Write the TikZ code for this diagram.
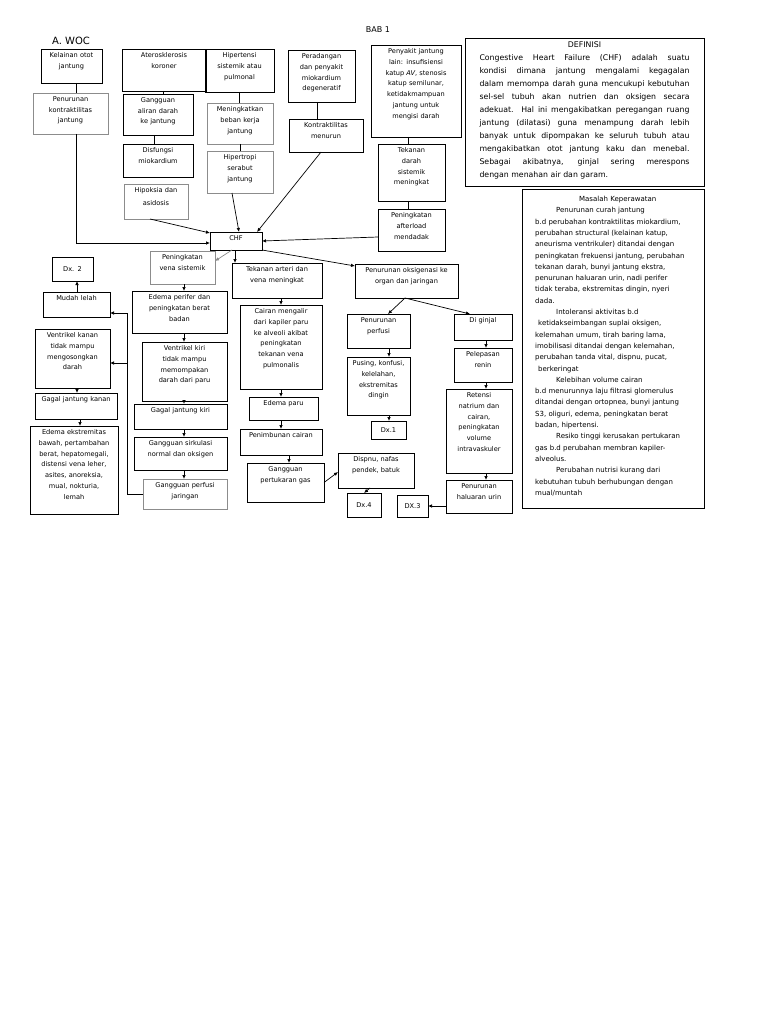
\documentclass[tikz,border=0pt]{standalone}
\usepackage{fontspec}
\setmainfont{DejaVu Sans}
\usetikzlibrary{arrows.meta,calc}
\newcommand\bx[7][]{%
  \pgfmathsetmacro\bxw{#5-#3}\pgfmathsetmacro\bxh{#6-#4}%
  \pgfmathsetmacro\bxcx{(#3+#5)/2}\pgfmathsetmacro\bxcy{(#4+#6)/2}%
  \pgfmathsetmacro\bxtw{#5-#3-3}%
  \node[bxs,minimum width=\bxw pt,minimum height=\bxh pt,#1] (#2) at (\bxcx,\bxcy) {};
  \node[txt,text width=\bxtw pt,anchor=north] (#2-t) at ([yshift=-3.5pt]#2.north) {#7};
}
\newcommand\bxc[7][]{%
  \pgfmathsetmacro\bxw{#5-#3}\pgfmathsetmacro\bxh{#6-#4}%
  \pgfmathsetmacro\bxcx{(#3+#5)/2}\pgfmathsetmacro\bxcy{(#4+#6)/2}%
  \pgfmathsetmacro\bxtw{#5-#3-3}%
  \node[bxs,minimum width=\bxw pt,minimum height=\bxh pt,#1] (#2) at (\bxcx,\bxcy) {};
  \node[txt,text width=\bxtw pt] (#2-t) at (#2.center) {#7};
}
\tikzset{
  bxs/.style={draw=black,line width=0.7pt,rectangle,inner sep=0pt,outer sep=0pt},
  gbx/.style={draw=black!45},
  txt/.style={inner sep=0pt,outer sep=0pt,align=center,font=\fontsize{6.6}{10.8}\selectfont},
  ln/.style={line width=0.7pt},
  arr/.style={line width=0.7pt,-{Latex[length=4pt,width=3.5pt]}},
}
\begin{document}
\begin{tikzpicture}[x=1pt,y=-1pt]
\useasboundingbox (0,0) rectangle (768,1024);
\fill[white] (0,0) rectangle (768,1024);

\node[font=\fontsize{8}{10}\selectfont] (bab) at (378,30) {BAB 1};
\node[font=\fontsize{10}{12}\selectfont,anchor=west,inner sep=0pt] (woc) at (52,41) {A.\ WOC};

% top row
\bx{ko}{41}{49}{102}{83}{Kelainan otot\\jantung}
\bx[gbx]{pk}{33}{93}{108}{134}{Penurunan\\kontraktilitas\\jantung}
\bx{at}{122}{49}{206}{91}{Aterosklerosis\\koroner}
\bx{ga}{123}{94}{193}{135}{Gangguan\\aliran darah\\ke jantung}
\bx{df}{123}{144}{193}{177}{Disfungsi\\miokardium}
\bx[gbx]{hip}{124}{184}{188}{219}{\vspace{2pt}Hipoksia dan\\asidosis}
\bx{hs}{205}{49}{274}{92}{Hipertensi\\sistemik atau\\pulmonal}
\bx[gbx]{mb}{207}{103}{273}{144}{Meningkatkan\\beban kerja\\jantung}
\bx[gbx]{ht}{207}{151}{273}{193}{Hipertropi\\serabut\\jantung}
\bx{pd}{288}{50}{355}{102}{Peradangan\\dan penyakit\\miokardium\\degeneratif}
\bx{kn}{289}{119}{363}{152}{Kontraktilitas\\menurun}
\bx{pj}{371}{45}{461}{137}{Penyakit jantung\\lain: insufisiensi\\katup \textit{AV}, stenosis\\katup semilunar,\\ketidakmampuan\\jantung untuk\\mengisi darah}
\bx{td}{378}{144}{445}{201}{Tekanan\\darah\\sistemik\\meningkat}
\bx{af}{378}{209}{445}{251}{Peningkatan\\afterload\\mendadak}
\bx{chf}{210}{232}{262}{250}{CHF}

% definisi
\node[bxs,minimum width=239pt,minimum height=148pt] (def) at (584.5,112) {};
\node[anchor=north,inner sep=0pt,font=\fontsize{7.8}{13}\selectfont] (deft) at ([yshift=-4pt]def.north) {\parbox{210pt}{{\centering DEFINISI\par}%
Congestive Heart Failure (CHF) adalah suatu\linebreak
kondisi dimana jantung mengalami kegagalan\linebreak
dalam memompa darah guna mencukupi kebutuhan\linebreak
sel-sel tubuh akan nutrien dan oksigen secara\linebreak
adekuat. Hal ini mengakibatkan peregangan ruang\linebreak
jantung (dilatasi) guna menampung darah lebih\linebreak
banyak untuk dipompakan ke seluruh tubuh atau\linebreak
mengakibatkan otot jantung kaku dan menebal.\linebreak
Sebagai akibatnya, ginjal sering merespons\linebreak
dengan menahan air dan garam.}};

% masalah keperawatan
\node[bxs,minimum width=182pt,minimum height=319pt] (mk) at (613,348.5) {};
\node[anchor=north west,inner sep=0pt,font=\fontsize{7}{11.3}\selectfont] (mkt) at (535,196) {\parbox{165pt}{\raggedright
{\centering Masalah Keperawatan\par}
\hspace*{21pt}Penurunan curah jantung\\
b.d perubahan kontraktilitas miokardium,\\
perubahan structural (kelainan katup,\\
aneurisma ventrikuler) ditandai dengan\\
peningkatan frekuensi jantung, perubahan\\
tekanan darah, bunyi jantung ekstra,\\
penurunan haluaran urin, nadi perifer\\
tidak teraba, ekstremitas dingin, nyeri\\
dada.\\
\hspace*{21pt}Intoleransi aktivitas b.d\\
\hspace*{3pt}ketidakseimbangan suplai oksigen,\\
kelemahan umum, tirah baring lama,\\
imobilisasi ditandai dengan kelemahan,\\
perubahan tanda vital, dispnu, pucat,\\
\hspace*{3pt}berkeringat\\
\hspace*{21pt}Kelebihan volume cairan\\
b.d menurunnya laju filtrasi glomerulus\\
ditandai dengan ortopnea, bunyi jantung\\
S3, oliguri, edema, peningkatan berat\\
badan, hipertensi.\\
\hspace*{21pt}Resiko tinggi kerusakan pertukaran\\
gas b.d perubahan membran kapiler-\\
alveolus.\\
\hspace*{21pt}Perubahan nutrisi kurang dari\\
kebutuhan tubuh berhubungan dengan\\
mual/muntah}};

% left column
\bxc{dxb}{52}{257}{93}{281}{Dx. 2}
\bx{ml}{43}{292}{110}{317}{Mudah lelah}
\bx{vka}{35}{329}{110}{388}{Ventrikel kanan\\tidak mampu\\mengosongkan\\darah}
\bx{gka}{35}{393}{117}{419}{Gagal jantung kanan}
\bx{ed}{30}{426}{118}{514}{Edema ekstremitas\\bawah, pertambahan\\berat, hepatomegali,\\distensi vena leher,\\asites, anoreksia,\\mual, nokturia,\\lemah}
\bx[gbx]{pv}{150}{251}{215}{284}{Peningkatan\\vena sistemik}
\bx{epf}{132}{291}{227}{333}{Edema perifer dan\\peningkatan berat\\badan}
\bx{vki}{142}{342}{227}{401}{Ventrikel kiri\\tidak mampu\\memompakan\\darah dari paru}
\bx{gki}{134}{404}{227}{429}{Gagal jantung kiri}
\bx{gs}{134}{437}{227}{470}{Gangguan sirkulasi\\normal dan oksigen}
\bx[gbx]{gpj}{143}{479}{227}{509}{Gangguan perfusi\\jaringan}

% middle column
\bx{ta}{232}{263}{322}{298}{Tekanan arteri dan\\vena meningkat}
\bx{cm}{240}{305}{322}{389}{Cairan mengalir\\dari kapiler paru\\ke alveoli akibat\\peningkatan\\tekanan vena\\pulmonalis}
\bx{ep}{249}{397}{318}{420}{Edema paru}
\bx{pc}{240}{429}{322}{455}{Penimbunan cairan}
\bx{gp}{247}{463}{324}{502}{Gangguan\\pertukaran gas}
\bx{dsp}{338}{453}{414}{488}{Dispnu, nafas\\pendek, batuk}
\bxc{dxd}{347}{493}{381}{517}{Dx.4}
\bxc{dxc}{397}{495}{428}{517}{DX.3}

% right column
\bx{po}{355}{264}{458}{298}{Penurunan oksigenasi ke\\organ dan jaringan}
\bx{pp}{347}{314}{410}{348}{Penurunan\\perfusi}
\bx{pus}{347}{357}{410}{415}{Pusing, konfusi,\\kelelahan,\\ekstremitas\\dingin}
\bxc{dxa}{371}{421}{406}{439}{Dx.1}
\bx{dg}{454}{314}{512}{340}{Di ginjal}
\bx{pr}{454}{348}{512}{382}{Pelepasan\\renin}
\bx{rn}{446}{389}{512}{473}{Retensi\\natrium dan\\cairan,\\peningkatan\\volume\\intravaskuler}
\bx{ph}{446}{480}{512}{513}{Penurunan\\haluaran urin}

% helper columns
\coordinate (c76) at (76,0);
\coordinate (c163) at (163,0);
\coordinate (c154) at (154,0);
\coordinate (c317) at (317,0);
\coordinate (c408) at (408,0);
\coordinate (c235) at (235,0);
\coordinate (c405) at (405,0);
\coordinate (c389) at (389,0);
\coordinate (c486) at (486,0);
\coordinate (c281) at (281,0);
\coordinate (c289) at (289,0);
\coordinate (c184) at (184,0);
\coordinate (c127) at (127,0);
\coordinate (c77) at (77,0);
\coordinate (c80) at (80,0);

% top connectors
\draw[ln] (ko.south -| c76) -- (pk.north -| c76);
\draw[arr] (pk.south -| c76) |- ([yshift=-2pt]chf.west);
\draw[ln] (at.south -| c163) -- (ga.north -| c163);
\draw[ln] (ga.south -| c154) -- (df.north -| c154);
\draw[arr] ([xshift=-6pt]hip.south) -- ([yshift=-1pt]chf.north west);
\draw[ln] (hs.south) -- (hs.south |- mb.north);
\draw[ln] (mb.south) -- (mb.south |- ht.north);
\draw[arr] ([xshift=-8pt]ht.south) -- ([xshift=3pt]chf.north);
\draw[ln] (pd.south -| c317) -- (kn.north -| c317);
\draw[arr] ([xshift=-5pt]kn.south) -- ([xshift=-5pt]chf.north east);
\draw[ln] (pj.south -| c408) -- (td.north -| c408);
\draw[ln] (td.south -| c408) -- (af.north -| c408);
\draw[arr] ([yshift=-7pt]af.west) -- (chf.east);

% from CHF
\draw[arr,draw=black!45] ([xshift=-4pt]chf.south) -- ([yshift=-10pt]pv.north east);
\draw[arr] (chf.south -| c235) -- (ta.north -| c235);
\draw[arr] (chf.south east) -- ([yshift=-2pt]po.north west);

% right branch
\draw[arr] (po.south -| c405) -- ([xshift=-22pt]pp.north east);
\draw[arr] (po.south -| c405) -- ([xshift=-13pt]dg.north);
\draw[arr] (pp.south -| c389) -- (pus.north -| c389);
\draw[arr] (pus.south -| c389) -- (dxa.north -| c389);
\draw[arr] (dg.south -| c486) -- (pr.north -| c486);
\draw[arr] (pr.south -| c486) -- (rn.north -| c486);
\draw[arr] (rn.south -| c486) -- (ph.north -| c486);
\draw[arr] (ph.west |- dxc.east) -- (dxc.east);

% middle branch
\draw[arr] (ta.south -| c281) -- (cm.north -| c281);
\draw[arr] (cm.south -| c281) -- (ep.north -| c281);
\draw[arr] (ep.south -| c281) -- (pc.north -| c281);
\draw[arr] (pc.south -| c289) -- (gp.north -| c289);
\draw[arr] (gp.east) -- ([yshift=-1.5pt]dsp.west);
\draw[arr] ([xshift=-6pt]dsp.south) -- (dxd.north);

% left branch
\draw[arr] (pv.south -| c184) -- (epf.north -| c184);
\draw[arr] (epf.south -| c184) -- (vki.north -| c184);
\draw[arr] (vki.south -| c184) -- (gki.north -| c184);
\draw[arr] (gki.south -| c184) -- (gs.north -| c184);
\draw[arr] (gs.south -| c184) -- (gpj.north -| c184);
\coordinate (m1) at ([yshift=-8.5pt]ml.east);
\coordinate (m2) at ([yshift=-4.5pt]vka.east);
\draw[arr] (gpj.west) -| (c127 |- m1) -- (m1);
\draw[arr] (c127 |- m2) -- (m2);
\draw[arr] (ml.north -| c77) -- (dxb.south -| c77);
\draw[arr] (vka.south -| c77) -- (gka.north -| c77);
\draw[arr] (gka.south -| c80) -- (ed.north -| c80);
\end{tikzpicture}
\end{document}
